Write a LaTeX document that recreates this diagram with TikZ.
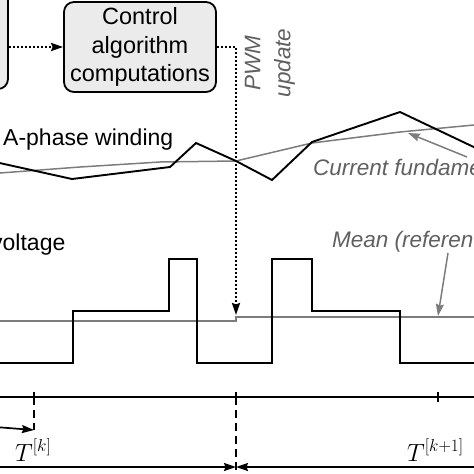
\documentclass[tikz,border=0pt]{standalone}
\usepackage[no-math]{fontspec}
\setmainfont{Liberation Sans}
\usetikzlibrary{arrows.meta}
\definecolor{boxfill}{HTML}{EBEBEB}
\definecolor{lgray}{HTML}{7C7C7C}
\definecolor{tgray}{HTML}{606060}
\begin{document}
\begin{tikzpicture}[x=1pt,y=-1pt,
  box/.style={draw=black, line width=1.8pt, rounded corners=10pt, fill=boxfill,
    align=center, inner sep=0pt, font=\fontsize{23.5}{28.5}\selectfont},
  dotarrow/.style={line width=2.3pt, dash pattern=on 2.1pt off 1.9pt,
    -{Stealth[length=12pt,width=8pt,inset=1.5pt]}},
  wave/.style={line width=1.9pt, line join=miter},
  fund/.style={line width=1.5pt, draw=lgray},
  glabel/.style={text=tgray, font=\itshape\fontsize{22.5}{30}\selectfont, inner sep=0pt},
  blabel/.style={text=black, font=\fontsize{23}{28}\selectfont, inner sep=0pt},
  garrow/.style={line width=1.5pt, draw=lgray, -{Stealth[length=12pt,width=8pt,inset=1.5pt]}},
  axis/.style={line width=1.7pt},
  tick/.style={line width=1.5pt},
  dashv/.style={line width=1.6pt, dash pattern=on 8pt off 5pt},
  tarrow/.style={line width=1.7pt, -{Stealth[length=12pt,width=8pt,inset=1.5pt]}},
  tlabel/.style={inner sep=0pt, font=\fontsize{27}{32}\selectfont}
]
\useasboundingbox (0,0) rectangle (474,474);
\begin{scope}
\clip (0,0) rectangle (474,474);

% boxes
\node[box, minimum width=130pt, minimum height=102pt] (left) at (-57,38) {};
\node[box, minimum width=152pt, minimum height=90pt] (ctrl) at (140,47)
  {Control\\algorithm\\computations};

% dotted flow
\coordinate (upd) at (236,315);
\draw[dotarrow] (left.east |- ctrl.west) -- (ctrl.west);
\draw[dotarrow] (ctrl.east) -| (upd);

\node[glabel, rotate=90, align=center] (pwm) at (270,63) {PWM\\update};

% current
\node[blabel, anchor=base west] (aph) at (3,145) {A-phase winding};
\draw[fund] (0,173) -- (80,167) -- (160,162) -- (236,161) -- (312,143) -- (400,132) -- (474,125);
\draw[wave] (-5,162) -- (72,179) -- (170,167) -- (196,143) -- (236,161) -- (272,180)
  -- (312,142) -- (400,112) -- (480,150);
\node[glabel, anchor=base west] (cf) at (313,175) {Current fundame};
\coordinate (cfa) at (467,157);
\coordinate (cfb) at (408,133);
\draw[garrow] (cfa) -- (cfb);

% voltage
\node[blabel, anchor=base west] (volt) at (-9,250) {voltage};
\draw[fund] (-5,321) -- (236,321) -- (236,317) -- (480,317);
\draw[wave] (-5,363) -- (73,363) -- (73,311) -- (169,311) -- (169,259) -- (197,259)
  -- (197,363) -- (272,363) -- (272,259) -- (312,259) -- (312,311) -- (400,311)
  -- (400,363) -- (480,363);
\node[glabel, anchor=base west] (mean) at (332,247) {Mean (referen};
\coordinate (mna) at (448,253);
\coordinate (mnb) at (438,316);
\draw[garrow] (mna) -- (mnb);

% timeline
\coordinate (a0) at (-5,397);
\coordinate (a1) at (480,397);
\draw[axis] (a0) -- (a1);
\coordinate (t1) at (34,397);
\coordinate (t2) at (236,397);
\coordinate (t3) at (438,397);
\foreach \t in {t1,t2,t3} \draw[tick] ([yshift=-5pt]\t) -- ([yshift=5pt]\t);
\coordinate (d1) at (34,430);
\coordinate (d2) at (236,480);
\draw[dashv] (t1) -- (d1);
\draw[dashv] (t2) -- (d2);
\coordinate (s0) at (-5,427);
\draw[tarrow] (s0) -- (d1);
\coordinate (l0) at (-5,467);
\coordinate (lk) at (236,467);
\coordinate (r0) at (480,467);
\draw[tarrow] (l0) -- (lk);
\draw[tarrow] (r0) -- (lk);
\node[tlabel, anchor=base west] (tk) at (15,461) {$T^{[k]}$};
\node[tlabel, anchor=base west] (tk1) at (407,461) {$T^{[k+1]}$};
\end{scope}
\end{tikzpicture}
\end{document}
